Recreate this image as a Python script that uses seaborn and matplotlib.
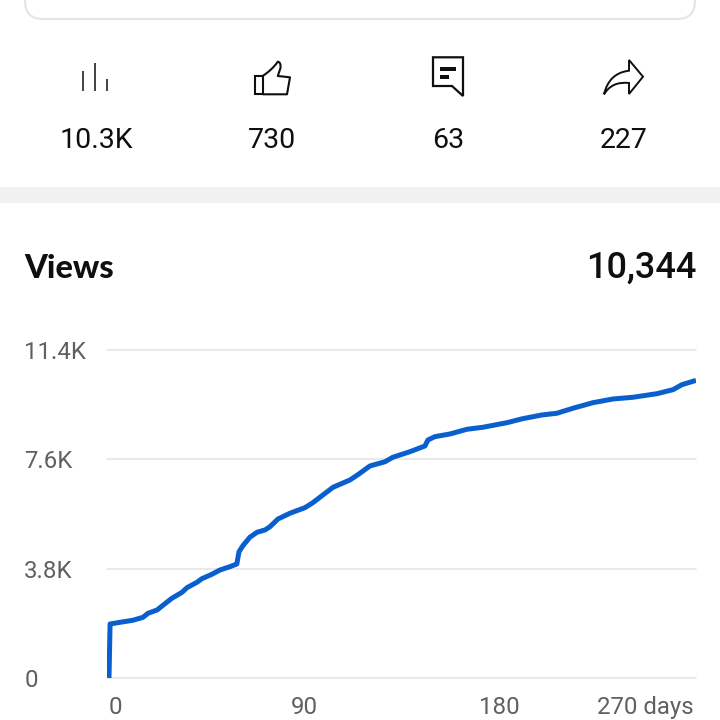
import matplotlib
matplotlib.use("Agg")
import matplotlib.pyplot as plt
from matplotlib.patches import FancyBboxPatch, PathPatch, Polygon, Rectangle
from matplotlib.path import Path
import pandas as pd
import seaborn as sns

# Lifetime views curve
days = [0, 0.5, 5.1, 11, 15.7, 18, 22.2, 24.9, 29, 33.7, 36, 40.6, 42.9, 47.5, 51.2, 55.8,
        59, 60, 61.8, 65, 68.3, 72, 74.3, 78, 83.5, 90.4, 94.1, 98.3, 103.4, 111.2, 115.8,
        120.4, 127.4, 131, 138.9, 145.8, 147.2, 150.4, 157.4, 165.2, 172.6, 183.7, 191,
        199.8, 206.7, 214.1, 223.4, 232.6, 241.8, 252.9, 260.3, 264.4, 270.9]
views = [0, 1877, 1936, 2006, 2110, 2249, 2364, 2527, 2770, 2979, 3139, 3327, 3452, 3605,
         3754, 3869, 3963, 4390, 4599, 4891, 5065, 5145, 5259, 5527, 5725, 5920, 6093, 6337,
         6629, 6882, 7115, 7369, 7518, 7672, 7866, 8064, 8273, 8388, 8482, 8645, 8715, 8875,
         9014, 9142, 9201, 9375, 9570, 9698, 9757, 9882, 10021, 10195, 10344]

y_ticks = [0, 3800, 7600, 11400]
y_tick_labels = ["0", "3.8K", "7.6K", "11.4K"]
x_ticks = [0, 90, 180, 270]
x_tick_labels = ["0", "90", "180", "270 days"]

stat_labels = ["10.3K", "730", "63", "227"]
section_title = "Views"
section_total = "10,344"

INK = "#0f0f0f"
MUTED = "#606060"
RULE = "#e5e5e5"
BLUE = "#0a5fcf"

sns.set_theme(style="white")
plt.rcParams["font.family"] = ["Roboto", "DejaVu Sans"]

fig = plt.figure(figsize=(7.2, 7.2), dpi=100, facecolor="white")

# Page furniture lives on a full-figure layer measured in pixels
page = fig.add_axes([0, 0, 1, 1])
page.set_xlim(0, 720)
page.set_ylim(720, 0)
page.axis("off")

page.add_patch(FancyBboxPatch((25, -40), 670, 59, boxstyle="round,pad=0,rounding_size=18",
                              fc="white", ec=RULE, lw=1.6))
page.add_patch(Rectangle((0, 187), 720, 16, fc="#f1f1f1", ec="none"))

# Views icon
for x, top in [(82.6, 71), (95, 63.3), (107, 79)]:
    page.plot([x, x], [top, 90.7], color=INK, lw=1.1, solid_capstyle="butt")

# Like icon
page.add_patch(Rectangle((254.8, 76), 7.8, 18.3, fc="none", ec=INK, lw=1.5))
like_path = Path(
    [(262.6, 76), (272, 70), (277.8, 61.7), (281, 62), (280.5, 68), (277.8, 76),
     (290, 77.3), (287, 94.3), (262.6, 94.3)],
    [Path.MOVETO, Path.CURVE3, Path.CURVE3, Path.CURVE3, Path.CURVE3, Path.LINETO,
     Path.LINETO, Path.LINETO, Path.LINETO],
)
page.add_patch(PathPatch(like_path, fc="none", ec=INK, lw=1.5, joinstyle="round"))

# Comment icon
page.add_patch(Polygon([(433, 57.3), (463, 57.3), (463, 96), (452, 86), (433, 86)],
                       closed=True, fc="none", ec=INK, lw=1.6, joinstyle="miter"))
page.add_patch(Rectangle((440, 67), 16, 3.7, fc=INK, ec="none"))
page.add_patch(Rectangle((440, 75), 9, 3.7, fc=INK, ec="none"))

# Share icon
share_path = Path(
    [(604, 94.3), (609, 73), (629, 70.7), (629, 60), (643, 76.7), (629, 94), (629, 83),
     (612, 81), (604, 94.3)],
    [Path.MOVETO, Path.CURVE3, Path.CURVE3, Path.LINETO, Path.LINETO, Path.LINETO,
     Path.LINETO, Path.CURVE3, Path.CURVE3],
)
page.add_patch(PathPatch(share_path, fc="none", ec=INK, lw=1.4, joinstyle="miter"))

for cx, label in zip([96, 272, 448, 624], stat_labels):
    page.text(cx, 137, label, ha="center", va="center_baseline", fontsize=20.5, color=INK)

page.text(24, 266, section_title, ha="left", va="center_baseline", fontsize=23.5, fontweight=900,
          family=["Lato", "DejaVu Sans"], color=INK)
page.text(696, 264, section_total, ha="right", va="center_baseline", fontsize=26, fontweight="medium",
          color=INK)

# Views chart
ax = fig.add_axes([107 / 720, 1 - 678 / 720, 589 / 720, 328 / 720])
ax.patch.set_alpha(0)
frame = pd.DataFrame({"day": days, "views": views})
sns.lineplot(data=frame, x="day", y="views", ax=ax, color=BLUE, lw=3.6, sort=False,
             solid_capstyle="butt", solid_joinstyle="round", errorbar=None, estimator=None)

ax.set_xlim(-0.92, 270.9)
ax.set_ylim(0, 11400)
ax.set_xlabel("")
ax.set_ylabel("")
sns.despine(ax=ax, left=True, bottom=True)

ax.set_yticks(y_ticks, y_tick_labels)
ax.set_xticks(x_ticks, x_tick_labels)
ax.grid(axis="y", color=RULE, lw=1.2)
ax.grid(axis="x", visible=False)
ax.set_axisbelow(True)
for line in ax.get_ygridlines():
    line.set_clip_on(False)

ax.tick_params(axis="y", length=0, pad=59.5, labelsize=17.3, labelcolor=MUTED)
ax.tick_params(axis="x", length=0, pad=13, labelsize=17.3, labelcolor=MUTED)
for label in ax.get_yticklabels():
    label.set_ha("left")
x_labels = ax.get_xticklabels()
x_labels[0].set_ha("left")
x_labels[-1].set_ha("right")

fig.savefig("out.png", dpi=100)
